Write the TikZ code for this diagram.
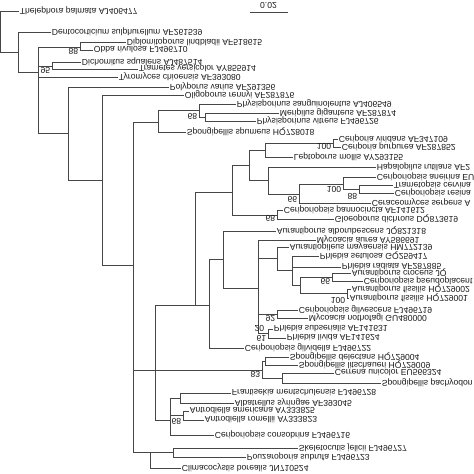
\documentclass[tikz,border=0pt]{standalone}
\usepackage{fontspec}
\setmainfont{Liberation Sans}
\usepackage{graphicx}
\usetikzlibrary{calc}
\definecolor{branchgray}{RGB}{70,70,70}
\definecolor{labelink}{RGB}{25,25,25}
\newcommand{\upside}[1]{\scalebox{1}[-1]{#1}}
\tikzset{
  branch/.style={line width=1pt, branchgray, line cap=rect},
  taxon/.style={anchor=west, inner sep=1.4pt, text=labelink, font=\fontsize{8.6}{9}\selectfont},
  boot/.style={anchor=east, inner sep=0.6pt, text=labelink, font=\fontsize{8.6}{9}\selectfont},
}

\begin{document}
\begin{tikzpicture}[x=1pt, y=-1pt]
  \useasboundingbox (0,0) rectangle (474,474);

  % vertical bars of the internal nodes: x / top / bottom
  \foreach \vx/\ya/\yb in {0.5/11/52, 18/32/72, 38/47/133, 80/42/50, 52/62/69, 68/87/180,
      102/95/265, 133/122/452, 158/110/132, 199/104/117, 205/113/121, 155/305/420,
      195/192/305, 232/165/215, 249/150/180, 265/143/157, 333/139/147, 268/167/194,
      299/184/203, 343/177/189, 359/185/193, 277/210/219, 209/259/348, 223/231/288,
      258/240/333, 277/247/270, 292/256/285, 300/277/293, 332/273/281, 347/289/298,
      277/310/318, 268/329/338, 262/361/378, 265/357/365, 282/373/383, 170/398/435,
      180/393/403, 183/411/420, 150/452/468, 173/448/457}
    \draw[branch] (\vx,\ya) -- (\vx,\yb);

  % stems joining a node to its parent: from x / to x / y
  \foreach \xa/\xb/\hy in {0.5/18/52, 18/38/72, 38/80/47, 38/52/66, 38/68/133, 68/102/180,
      102/133/265, 133/158/122, 133/262/370, 133/173/452, 158/199/110, 199/205/117,
      155/209/305, 195/232/192, 232/249/165, 232/277/215, 249/265/150, 249/268/180,
      265/333/143, 268/299/194, 299/343/184, 343/359/189, 209/223/259, 223/258/288,
      258/277/258, 277/292/270, 292/300/285, 300/332/277, 300/347/293, 258/277/314,
      258/268/333, 262/265/361, 262/282/378, 155/170/420, 170/180/398, 170/183/415}
    \draw[branch] (\xa,\hy) -- (\xb,\hy);

  % terminal branches and taxon labels: from x / y / to x / name / text
  \foreach \bx/\by/\ex/\nm/\txt in {
      0.5/11/18/thpal/Thelephora palmata AJ406477,
      18/32/50/desul/Dentocorticium sulphurellum AF261539,
      80/42/125/dilin/Diplomitoporus lindbladii AF518615,
      80/50/92/obriv/Obba rivulosa FJ496710,
      52/62/80/disqu/Dichomitus squalens AJ487514,
      52/69/137/trver/Trametes versicolor AY855914,
      38/77/117/tychi/Tyromyces chioensis AF393080,
      68/87/168/povar/Polyporus varius AF291356,
      102/95/183/olren/Oligoporus rennyi AF287876,
      199/104/235/phsan/Physisporinus sanguinolentus AJ406549,
      205/113/278/megig/Meripilus giganteus AF287874,
      205/121/255/phvit/Physisporinus vitreus FJ496726,
      158/132/185/spspu/Spongipellis spumeus HQ728018,
      333/139/337/cevir/Ceriporia viridans AF347109,
      333/147/340/cepur/Ceriporia purpurea AF287852,
      265/157/292/lemol/Leptoporus mollis AY293155,
      268/167/375/harut/Hapalopilus rutilans AF2,
      343/177/375/ceane/Ceriporiopsis aneirina EU,
      359/185/392/trcer/Trametopsis cervina,
      359/193/393/ceres/Ceriporiopsis resina,
      299/203/370/ceser/Ceraceomyces serpens A,
      277/210/282/cepan/Ceriporiopsis pannocincta AF141612,
      277/219/333/gldic/Gloeoporus dichrous DQ873619,
      223/231/275/aualb/Aurantiporus alborubescens JQ821318,
      258/240/315/myaur/Mycoacia aurea AY586691,
      277/247/288/aumay/Aurantiopileus mayaensis HM772139,
      292/256/318/phset/Phlebia setulosa GQ259417,
      292/267/340/phrad/Phlebia radiata AF287885,
      332/273/350/aucro/Aurantiporus croceus JQ,
      332/281/362/cepse/Ceriporiopsis pseudoplacent,
      347/289/350/aufisa/Aurantiporus fissilis HQ729002,
      347/298/348/aufisb/Aurantiporus fissilis HQ729001,
      277/310/297/cegil/Ceriporiopsis gilvescens FJ496719,
      277/318/307/mynot/Mycoacia nothofagi GU480000,
      268/329/272/phsub/Phlebia subserialis AF141631,
      268/338/285/phliv/Phlebia livida AF141624,
      209/348/243/cegvd/Ceriporiopsis gilvidella FJ496722,
      265/357/288/spdel/Spongipellis delectans HQ729004,
      265/365/297/split/Spongipellis litschaueri HQ729009,
      282/373/333/ceuni/Cerrena unicolor EU566324,
      282/383/380/sppac/Spongipellis pachyodon,
      180/393/230/frmen/Frantisekia mentschulensis FJ496728,
      180/403/233/alsyr/Albatrellus syringae AF393045,
      183/411/188/aname/Antrodiella americana AY333825,
      183/420/203/anrom/Antrodiella romellii AY333823,
      170/435/213/cecon/Ceriporiopsis consobrina FJ496716,
      173/448/297/skjel/Skeletocutis jelicii FJ496727,
      173/457/245/posub/Pouzaroporia subrufa FJ496723,
      150/468/180/clbor/Climacocystis borealis JN710524}
    \draw[branch] (\bx,\by) -- (\ex,\by) node[taxon] (\nm) {\upside{\txt}};

  % support values
  \node[boot] (bsa) at (79,51) {\upside{88}};
  \node[boot] (bsb) at (51,70) {\upside{95}};
  \node[boot] (bsc) at (198,116) {\upside{68}};
  \node[boot] (bsd) at (332,146) {\upside{100}};
  \node[boot] (bse) at (342,189) {\upside{100}};
  \node[boot] (bsf) at (358,196) {\upside{88}};
  \node[boot] (bsg) at (298,199) {\upside{66}};
  \node[boot] (bsh) at (276,218) {\upside{68}};
  \node[boot] (bsi) at (331,281) {\upside{66}};
  \node[boot] (bsj) at (346,300) {\upside{100}};
  \node[boot] (bsk) at (276,318) {\upside{92}};
  \node[boot] (bsl) at (265,328) {\upside{20}};
  \node[boot] (bsm) at (267,338) {\upside{61}};
  \node[boot] (bsn) at (261,374) {\upside{83}};
  \node[boot] (bso) at (182,421) {\upside{68}};

  % scale bar
  \draw[branch] (250,12) coordinate (sbl) -- (287,12) coordinate (sbr);
  \node[font=\fontsize{8.6}{9}\selectfont, text=labelink, inner sep=0pt] (sblab) at ($(sbl)!0.5!(sbr)+(0,-7)$) {\upside{0.02}};
\end{tikzpicture}
\end{document}
